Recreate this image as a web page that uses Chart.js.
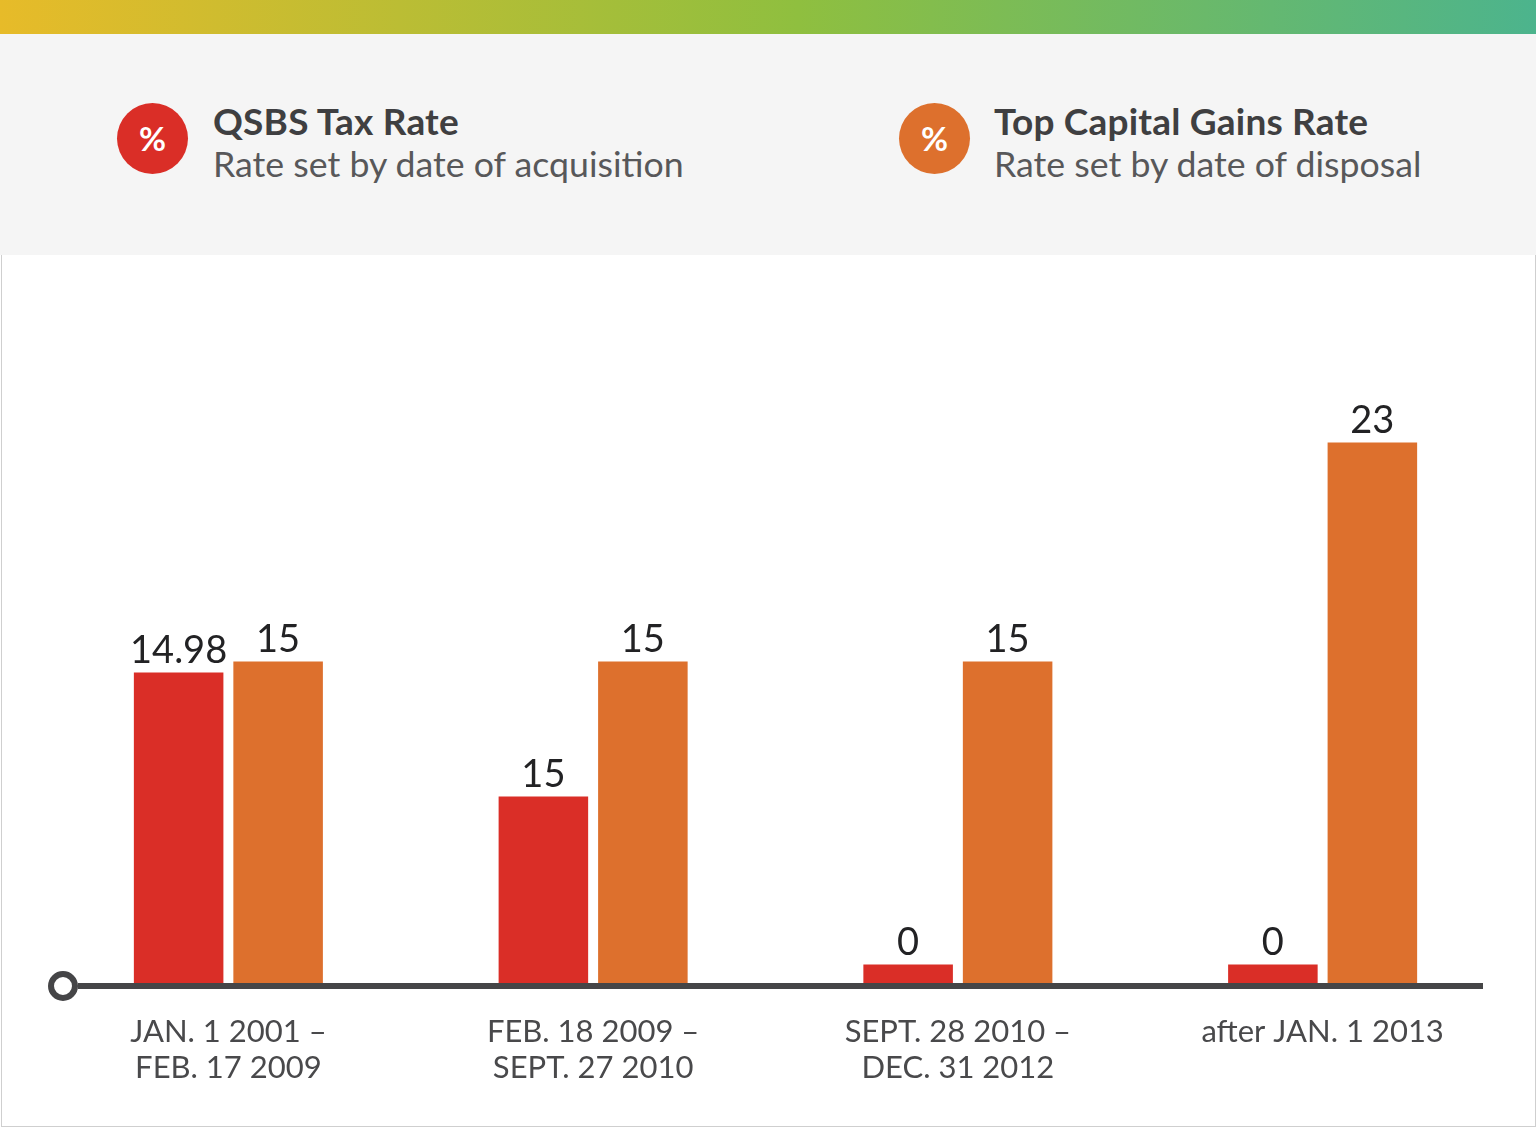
<!DOCTYPE html>
<html>
<head>
<meta charset="utf-8">
<title>QSBS Tax Rate</title>
<script src="https://cdn.jsdelivr.net/npm/chart.js@4"></script>
<style>
    html, body { margin: 0; padding: 0; background: #fff; }
    #pagina { position: relative; width: 1536px; height: 1128px; overflow: hidden; font-family: Lato, sans-serif; }
    #franja { position: absolute; left: 0; top: 0; width: 1536px; height: 34px; background: linear-gradient(90deg, #e7bb29 0%, #8fbf3f 52%, #4cb48d 100%); }
    #cabecera { position: absolute; left: 0; top: 34px; width: 1536px; height: 221px; background: #f5f5f5; }
    #marco { position: absolute; left: 1px; top: 255px; width: 1533px; height: 871px; border: 1px solid #cfcfcf; border-top: 0; }
    .circulo { position: absolute; top: 103px; width: 71px; height: 71px; border-radius: 50%; color: #fff; font-size: 33px; font-weight: 700; line-height: 71px; text-align: center; }
    .titulo { position: absolute; top: 99px; font-size: 37px; letter-spacing: 0.2px; font-weight: 700; color: #3f3f41; line-height: 44px; white-space: nowrap; }
    .subtitulo { position: absolute; top: 142px; font-size: 35.7px; color: #58585a; line-height: 44px; white-space: nowrap; }
    #grafico { position: absolute; left: 0; top: 255px; }
</style>
</head>
<body>
<div id="pagina">
    <div id="franja"></div>
    <div id="cabecera"></div>
    <div id="marco"></div>
    <canvas id="grafico" width="1536" height="873"></canvas>
    <div class="circulo" style="left:117px;background:#da2e27">%</div>
    <div class="titulo" style="left:213px">QSBS Tax Rate</div>
    <div class="subtitulo" style="left:213px">Rate set by date of acquisition</div>
    <div class="circulo" style="left:899px;background:#dd702d">%</div>
    <div class="titulo" style="left:994px">Top Capital Gains Rate</div>
    <div class="subtitulo" style="left:994px">Rate set by date of disposal</div>
</div>
<script>
// Fechas del eje
const periodos = [
    ['JAN. 1 2001 –', 'FEB. 17 2009'],
    ['FEB. 18 2009 –', 'SEPT. 27 2010'],
    ['SEPT. 28 2010 –', 'DEC. 31 2012'],
    'after JAN. 1 2013'
];

// Nombres de las series
const serieQsbs = 'QSBS Tax Rate';
const serieCapital = 'Top Capital Gains Rate';

// El original no dibuja las barras a escala: alturas
const alturasQsbs = [311, 187, 19, 19];
const alturasCapital = [322, 322, 322, 541];

// Valores rotulados encima de cada barra
const rotulosQsbs = ['14.98', '15', '0', '0'];
const rotulosCapital = ['15', '15', '15', '23'];

// Rótulos sobre las barras
const pluginRotulos = {
    id: 'rotulos',
    afterDatasetsDraw(chart) {
        const { ctx } = chart;
        ctx.save();
        ctx.font = '38px Lato, sans-serif';
        ctx.fillStyle = '#222224';
        ctx.textAlign = 'center';
        ctx.textBaseline = 'alphabetic';
        chart.data.datasets.forEach((dataset, i) => {
            chart.getDatasetMeta(i).data.forEach((barra, j) => {
                ctx.fillText(dataset.rotulos[j], barra.x, barra.y - 10);
            });
        });
        ctx.restore();
    }
};

// Línea base con el círculo a la izquierda
const pluginLineaBase = {
    id: 'lineaBase',
    afterDatasetsDraw(chart) {
        const { ctx, chartArea } = chart;
        const y = chartArea.bottom + 2.5;
        ctx.save();
        ctx.strokeStyle = '#454547';
        ctx.lineWidth = 6;
        ctx.beginPath();
        ctx.moveTo(chartArea.left + 32, y);
        ctx.lineTo(chartArea.right - 22, y);
        ctx.stroke();
        ctx.fillStyle = '#fff';
        ctx.beginPath();
        ctx.arc(chartArea.left + 17, y, 12, 0, Math.PI * 2);
        ctx.fill();
        ctx.stroke();
        ctx.restore();
    }
};

new Chart(document.getElementById('grafico'), {
    type: 'bar',
    data: {
        labels: periodos,
        datasets: [
            { label: serieQsbs, data: alturasQsbs, rotulos: rotulosQsbs, backgroundColor: '#da2e27' },
            { label: serieCapital, data: alturasCapital, rotulos: rotulosCapital, backgroundColor: '#dd702d' }
        ]
    },
    options: {
        responsive: false,
        animation: false,
        categoryPercentage: 0.5455,
        barPercentage: 0.9,
        layout: { padding: { left: 46, right: 31, top: 128.5, bottom: 0 } },
        plugins: {
            legend: { display: false },
            tooltip: { enabled: false }
        },
        scales: {
            y: { display: false, min: 0, max: 600 },
            x: {
                grid: { display: false },
                border: { display: false },
                afterFit: (escala) => { escala.height = 144.5; },
                ticks: {
                    autoSkip: false,
                    maxRotation: 0,
                    padding: 22,
                    color: '#49494b',
                    font: { family: 'Lato, sans-serif', size: 31, lineHeight: '36px' }
                }
            }
        }
    },
    plugins: [pluginRotulos, pluginLineaBase]
});
</script>
</body>
</html>
